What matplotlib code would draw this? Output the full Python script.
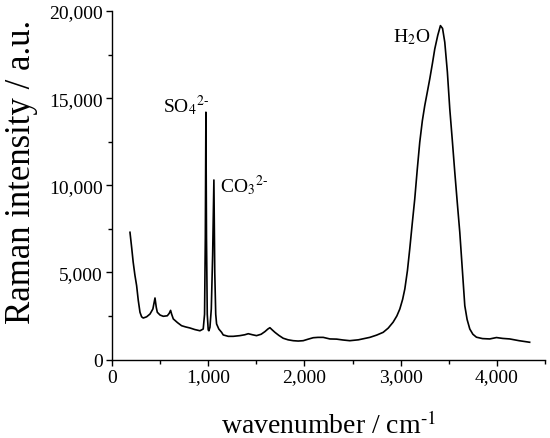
import matplotlib
matplotlib.use("Agg")
import matplotlib.pyplot as plt
from matplotlib.ticker import MultipleLocator, FuncFormatter

wavenumber = [187, 205, 220, 238, 256, 273, 291, 308, 325, 360, 395, 425, 447, 460, 471, 500, 533,
              575, 595, 609, 620, 637, 680, 723, 765, 810, 860, 914, 948, 962, 970, 976, 982, 990,
              1000, 1007, 1018, 1032, 1046, 1059, 1068, 1078, 1087, 1110, 1139, 1156, 1208, 1260,
              1329, 1380, 1416, 1460, 1502, 1550, 1589, 1620, 1641, 1665, 1693, 1735, 1779, 1830,
              1883, 1935, 1987, 2040, 2091, 2140, 2195, 2264, 2334, 2400, 2471, 2560, 2679, 2750,
              2818, 2870, 2921, 2960, 2991, 3020, 3043, 3070, 3094, 3120, 3146, 3172, 3198, 3225,
              3250, 3275, 3302, 3330, 3354, 3385, 3413, 3435, 3458, 3485, 3510, 3536, 3562, 3588,
              3614, 3640, 3666, 3690, 3718, 3750, 3787, 3850, 3925, 3995, 4060, 4133, 4230, 4340]
intensity = [7300, 6400, 5600, 4850, 4240, 3400, 2710, 2450, 2380, 2450, 2610, 2900, 3530, 3000,
             2710, 2550, 2480, 2510, 2650, 2820, 2600, 2330, 2120, 1940, 1870, 1810, 1720, 1650,
             1750, 2600, 7000, 14190, 7000, 2600, 1700, 1650, 1850, 2900, 6000, 10300, 5000, 2600,
             2040, 1750, 1560, 1410, 1330, 1330, 1370, 1420, 1480, 1420, 1370, 1450, 1600, 1750,
             1825, 1700, 1560, 1380, 1220, 1130, 1080, 1060, 1080, 1170, 1250, 1270, 1270, 1180,
             1170, 1120, 1080, 1130, 1270, 1400, 1560, 1800, 2140, 2500, 2900, 3450, 4050, 5100,
             6340, 7800, 9210, 10900, 12470, 13700, 14570, 15300, 16100, 17000, 17820, 18600,
             19160, 19000, 18210, 16500, 14380, 12600, 10750, 9000, 7300, 5200, 3090, 2300, 1750,
             1450, 1280, 1200, 1180, 1260, 1210, 1180, 1080, 990]

xticks = [0, 1000, 2000, 3000, 4000]
yticks = [0, 5000, 10000, 15000, 20000]

plt.rcParams['font.family'] = ['Liberation Serif', 'DejaVu Serif']
plt.rcParams['mathtext.fontset'] = 'stix'

fig = plt.figure(figsize=(5.5, 4.39), dpi=100)
ax = fig.add_axes([0.2036, 0.1788, 0.7874, 0.7939])
ax.plot(wavenumber, intensity, color='black', linewidth=1.2)

ax.set_xlim(0, 4500)
ax.set_ylim(0, 20000)
ax.set_xticks(xticks)
ax.set_yticks(yticks)
ax.xaxis.set_minor_locator(MultipleLocator(500))
ax.yaxis.set_minor_locator(MultipleLocator(2500))
fmt = FuncFormatter(lambda v, p: f"{int(v):,}")
ax.xaxis.set_major_formatter(fmt)
ax.yaxis.set_major_formatter(fmt)
for s in ['top', 'right']:
    ax.spines[s].set_visible(False)
for s in ['left', 'bottom']:
    ax.spines[s].set_linewidth(1.0)
ax.tick_params(which='major', direction='out', length=4.5, width=1.0, labelsize=14, pad=2)
ax.tick_params(which='minor', direction='out', length=3, width=1.0)

ax.set_xlabel(r'wavenumber / cm$^{\text{-}1}$', fontsize=20)
ax.xaxis.set_label_coords(0.5, -0.21)
ax.xaxis.label.set_va('baseline')
ax.set_ylabel('Raman intensity / a.u.', fontsize=25)
ax.yaxis.set_label_coords(-0.171, 0.54)

ax.text(530, 14264, r'SO$_4$$^{2\text{-}}$', fontsize=14, ha='left', va='baseline')
ax.text(1121, 9672, r'CO$_3$$^{2\text{-}}$', fontsize=14, ha='left', va='baseline')
ax.text(2918, 18281, r'H$_2$O', fontsize=14, ha='left', va='baseline')

fig.savefig('out.png', dpi=100)
